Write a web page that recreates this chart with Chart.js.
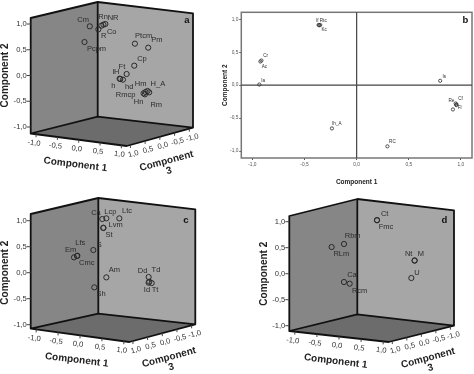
<!DOCTYPE html>
<html>
<head>
<meta charset="utf-8">
<title>Component plots</title>
<script src="https://cdn.jsdelivr.net/npm/chart.js@4"></script>
<style>
  html, body { margin: 0; padding: 0; background: #fff; }
  body { position: relative; width: 474px; height: 374px; overflow: hidden; }
  canvas { position: absolute; filter: blur(0.4px); }
</style>
</head>
<body>
<canvas id="panel-a" style="left:0;top:0" width="218" height="187"></canvas>
<canvas id="panel-b" style="left:218px;top:0" width="256" height="187"></canvas>
<canvas id="panel-c" style="left:0;top:187px" width="237" height="187"></canvas>
<canvas id="panel-d" style="left:237px;top:187px" width="237" height="187"></canvas>
<script>
// values. panels a, c, d are 3D views, so x is the
// position across the box (-1 left edge, 1 right edge), y is against the Component 2 ticks
const aLabels = ['Cm', 'Rn', 'NR', 'R', 'Co', 'Pcpm', 'Ptcm', 'Pm', 'Cp', 'Ft', 'lH', 'h', 'hd', 'Hm', 'H_A', 'Rmcp', 'Hn', 'Rm'];
const aX = [-0.272, -0.129, -0.08, -0.166, -0.104, -0.337, 0.284, 0.448, 0.276, 0.182, 0.104, 0.096, 0.137, 0.391, 0.46, 0.407, 0.415, 0.44];
const aY = [0.955, 0.968, 1.0, 0.896, 0.987, 0.65, 0.618, 0.54, 0.191, 0.029, -0.068, -0.061, -0.081, -0.346, -0.327, -0.366, -0.32, -0.301];

const bLabels = ['lf', 'Rtc', 'Kc', 'Cr', 'Ac', 'Ia', 'Is', 'Re', 'Cf', 'Fl', '', 'RC', 'lh_A'];
const bX = [-0.365, -0.349, -0.359, -0.913, -0.923, -0.933, 0.801, 0.949, 0.958, 0.955, 0.923, 0.295, -0.237];
const bY = [0.914, 0.914, 0.909, 0.374, 0.359, 0.01, 0.066, -0.278, -0.293, -0.303, -0.369, -0.929, -0.657];

const cLabels = ['Ca', 'Lcp', 'Ltc', 'Lvm', 'St', 'S', 'Lfs', 'Em', 'Cmc', 'Am', 'Sh', 'Dd', 'Td', 'Id', 'Tt'];
const cX = [-0.13, -0.081, 0.077, -0.117, -0.117, -0.239, -0.433, -0.474, -0.437, -0.081, -0.227, 0.433, 0.441, 0.433, 0.47];
const cY = [1.032, 1.045, 1.045, 0.865, 0.859, 0.436, 0.327, 0.295, 0.321, -0.09, -0.282, -0.083, -0.173, -0.192, -0.199];

const dLabels = ['Ct', 'Fmc', 'Rbm', 'RLm', 'Ca', 'Rcm', 'Nt', 'M', 'U'];
const dX = [0.065, 0.065, -0.336, -0.486, -0.336, -0.267, 0.522, 0.522, 0.482];
const dY = [1.032, 1.026, 0.571, 0.513, -0.16, -0.192, 0.256, 0.25, -0.083];

const axisTicks = [-1, -0.5, 0, 0.5, 1];

// where each label sits relative to its point, in pixels
const aOffsets = [[-6.7,-6.3],[1.7,-9],[7.7,-5.7],[5.3,6.3],[8.3,7],[12,7],[8.7,-7.7],[8.7,-7.7],[7.7,-7],[-4.7,-7],[-4.3,-6.7],[-6.3,7.7],[6.3,7],[-3,-9],[8.7,-8],[-19.3,1],[-7,9.7],[8.7,14]];
const bOffsets = [[-1.3,-4.7],[3,-4.7],[5,4],[4.3,-4.7],[4,5],[3.7,-3.7],[4,-3.7],[-4.3,-2.7],[4,-5.7],[3.3,3],[0,0],[5,-5],[5,-5]];
const cOffsets = [[-6.3,-6.3],[4,-6.7],[7.7,-7.3],[12.3,-2.3],[5.7,7],[6,-5.3],[3,-12.7],[-3.3,-7.7],[9.7,7],[8,-7.3],[6.7,7],[-6,-6.3],[6.7,-11.3],[-1.7,7.7],[3.3,7.3]];
const dOffsets = [[7.7,-6.3],[9,6.7],[8.7,-7.7],[9.7,7.3],[8,-7],[10,7],[-6,-6.3],[6.3,-7],[5.7,-4.7]];

const FONT = '"Liberation Sans", Arial, sans-serif';
const BOX_RANGE = 1.125;

function comma(v) {
  return v.toFixed(1).replace('.', ',');
}

function toPoints(xs, ys) {
  return xs.map((x, i) => ({ x: x, y: ys[i] }));
}

const pointLabels = {
  id: 'pointLabels',
  afterDatasetsDraw(chart, args, opts) {
    const ctx = chart.ctx;
    const meta = chart.getDatasetMeta(0);
    ctx.save();
    ctx.font = opts.size + 'px ' + FONT;
    ctx.fillStyle = '#2c2c2c';
    ctx.textAlign = 'center';
    ctx.textBaseline = 'middle';
    meta.data.forEach((pt, i) => {
      ctx.fillText(opts.labels[i], pt.x + opts.offsets[i][0], pt.y + opts.offsets[i][1]);
    });
    ctx.restore();
  }
};

function poly(ctx, pts, fill) {
  ctx.beginPath();
  pts.forEach((p, i) => i ? ctx.lineTo(p[0], p[1]) : ctx.moveTo(p[0], p[1]));
  ctx.closePath();
  ctx.fillStyle = fill;
  ctx.fill();
}

function lines(ctx, pts) {
  ctx.beginPath();
  pts.forEach((p, i) => i ? ctx.lineTo(p[0], p[1]) : ctx.moveTo(p[0], p[1]));
  ctx.stroke();
}

function rotatedText(ctx, text, x, y, angle) {
  ctx.save();
  ctx.translate(x, y);
  ctx.rotate(angle * Math.PI / 180);
  ctx.fillText(text, 0, 0);
  ctx.restore();
}

// the box, its ticks and titles
const boxFrame = {
  id: 'boxFrame',
  beforeDatasetsDraw(chart, args, g) {
    const ctx = chart.ctx;
    const lt = [g.left, g.top], lb = [g.left, g.bottom];
    const bt = [g.backX, g.backTop], bb = [g.backX, g.backBottom];
    const rt = [g.right, g.rightTop], rb = [g.right, g.rightBottom];
    const f = [g.frontX, g.frontY];

    ctx.save();
    poly(ctx, [lt, bt, bb, lb], '#868686');
    poly(ctx, [bt, rt, rb, bb], '#a6a6a6');
    poly(ctx, [lb, bb, rb, f], '#6c6c6c');

    ctx.strokeStyle = '#111';
    ctx.lineWidth = 1.8;
    ctx.lineJoin = 'round';
    lines(ctx, [lb, lt, bt, rt, rb, f, lb, bb, rb]);
    lines(ctx, [bt, bb]);

    ctx.strokeStyle = '#444';
    ctx.lineWidth = 1;
    ctx.fillStyle = '#333';
    ctx.font = '7.6px ' + FONT;
    ctx.textBaseline = 'middle';

    // Component 2 on the left edge
    ctx.textAlign = 'right';
    axisTicks.forEach(v => {
      const y = chart.scales.y.getPixelForValue(v);
      lines(ctx, [[g.left - 4, y], [g.left, y]]);
      ctx.fillText(comma(v), g.left - 4, y);
    });

    // Component 1 along the front left edge, Component 3 along the front right edge
    ctx.textAlign = 'center';
    axisTicks.forEach(v => {
      const t1 = (v + BOX_RANGE) / (2 * BOX_RANGE);
      const x1 = lb[0] + (f[0] - lb[0]) * t1, y1 = lb[1] + (f[1] - lb[1]) * t1;
      lines(ctx, [[x1, y1], [x1, y1 + 3]]);
      rotatedText(ctx, comma(v), x1 - 2, y1 + 9, 7);

      const x3 = f[0] + (rb[0] - f[0]) * (1 - t1), y3 = f[1] + (rb[1] - f[1]) * (1 - t1);
      lines(ctx, [[x3, y3], [x3, y3 + 3]]);
      rotatedText(ctx, comma(v), x3 + 3, y3 + 9, -15);
    });

    ctx.fillStyle = '#222';
    ctx.font = 'bold 10px ' + FONT;
    rotatedText(ctx, 'Component 1', (lb[0] + f[0]) / 2 - 3.3, (lb[1] + f[1]) / 2 + 24.7, 7);
    rotatedText(ctx, 'Component', (rb[0] + f[0]) / 2 + 6.7, (rb[1] + f[1]) / 2 + 24.3, -15);
    rotatedText(ctx, '3', (rb[0] + f[0]) / 2 + 9, (rb[1] + f[1]) / 2 + 34, -15);
    rotatedText(ctx, 'Component 2', g.left - 25.5, chart.scales.y.getPixelForValue(0), -90);

    ctx.fillStyle = '#111';
    ctx.font = 'bold 9.5px ' + FONT;
    ctx.fillText(g.letter, g.letterX, g.letterY);
    ctx.restore();
  }
};

function boxChart(id, labels, xs, ys, offsets, geom) {
  const canvas = document.getElementById(id);
  const ox = (geom.left + geom.right) / 2;
  const ux = (geom.right - geom.left) / 2;
  new Chart(canvas.getContext('2d'), {
    type: 'scatter',
    data: {
      datasets: [{
        data: toPoints(xs, ys),
        pointRadius: 2.6,
        pointBorderWidth: 1,
        pointBorderColor: '#2a2a2a',
        pointBackgroundColor: 'transparent'
      }]
    },
    options: {
      responsive: false,
      animation: false,
      layout: { autoPadding: false },
      scales: {
        x: { display: false, min: (0 - ox) / ux, max: (canvas.width - ox) / ux },
        y: { display: false, min: (geom.zeroY - canvas.height) / geom.unitY, max: geom.zeroY / geom.unitY }
      },
      plugins: {
        legend: { display: false },
        tooltip: { enabled: false },
        boxFrame: geom,
        pointLabels: { labels: labels, offsets: offsets, size: 7.5 }
      }
    },
    plugins: [boxFrame, pointLabels]
  });
}

boxChart('panel-a', aLabels, aX, aY, aOffsets, {
  left: 30.7, top: 18, bottom: 133.5,
  backX: 97.7, backTop: 2, backBottom: 116.7,
  right: 193, rightTop: 13.3, rightBottom: 127.7,
  frontX: 126.7, frontY: 146,
  zeroY: 75.5, unitY: 51.5,
  letter: 'a', letterX: 187, letterY: 20
});

boxChart('panel-c', cLabels, cX, cY, cOffsets, {
  left: 30.7, top: 27, bottom: 141.7,
  backX: 98.3, backTop: 11, backBottom: 126.7,
  right: 195.3, rightTop: 22.3, rightBottom: 137.3,
  frontX: 129.3, frontY: 155,
  zeroY: 85.7, unitY: 52,
  letter: 'c', letterX: 186, letterY: 33.5
});

boxChart('panel-d', dLabels, dX, dY, dOffsets, {
  left: 52.3, top: 29, bottom: 144,
  backX: 120.3, backTop: 12, backBottom: 127.3,
  right: 217, rightTop: 23.3, rightBottom: 138.7,
  frontX: 151.7, frontY: 155,
  zeroY: 86.7, unitY: 52,
  letter: 'd', letterX: 207.5, letterY: 33
});

// panel b is a plain 2D scatter with zero lines
const plotFrame = {
  id: 'plotFrame',
  beforeDatasetsDraw(chart) {
    const ctx = chart.ctx;
    const a = chart.chartArea;
    ctx.save();
    ctx.strokeStyle = '#777';
    ctx.lineWidth = 1.5;
    ctx.strokeRect(a.left, a.top, a.right - a.left, a.bottom - a.top);
    ctx.strokeStyle = '#444';
    ctx.lineWidth = 1.2;
    const zx = chart.scales.x.getPixelForValue(0);
    const zy = chart.scales.y.getPixelForValue(0);
    lines(ctx, [[zx, a.top], [zx, a.bottom]]);
    lines(ctx, [[a.left, zy], [a.right, zy]]);
    ctx.fillStyle = '#111';
    ctx.font = 'bold 9.5px ' + FONT;
    ctx.textAlign = 'center';
    ctx.textBaseline = 'middle';
    ctx.fillText('b', a.right - 6.5, a.top + 8);
    ctx.restore();
  }
};

function scatterAxis(tickPadding, titleOffset, afterFit) {
  return {
    type: 'linear',
    min: -1.106,
    max: 1.106,
    grid: { drawOnChartArea: false, tickLength: 2, tickColor: '#555' },
    border: { display: false },
    ticks: {
      color: '#555',
      font: { size: 4.8, family: FONT },
      padding: tickPadding,
      autoSkip: false,
      maxRotation: 0,
      callback: v => comma(v)
    },
    title: {
      display: true,
      color: '#222',
      font: { size: 6.5, weight: 'bold', family: FONT },
      padding: { top: titleOffset, bottom: 1 }
    },
    afterBuildTicks: s => { s.ticks = axisTicks.map(v => ({ value: v })); },
    afterFit: afterFit
  };
}

const bXAxis = scatterAxis(2, 8, s => { s.height = 29; });
bXAxis.title.text = 'Component 1';
const bYAxis = scatterAxis(1, 3, s => { s.width = 23.3; });
bYAxis.title.text = 'Component 2';

new Chart(document.getElementById('panel-b').getContext('2d'), {
  type: 'scatter',
  data: {
    datasets: [{
      data: toPoints(bX, bY),
      pointRadius: 1.6,
      pointBorderWidth: 0.8,
      pointBorderColor: '#2a2a2a',
      pointBackgroundColor: 'transparent'
    }]
  },
  options: {
    responsive: false,
    animation: false,
    layout: { autoPadding: false, padding: { top: 12.3, right: 2 } },
    scales: { x: bXAxis, y: bYAxis },
    plugins: {
      legend: { display: false },
      tooltip: { enabled: false },
      pointLabels: { labels: bLabels, offsets: bOffsets, size: 4.6 }
    }
  },
  plugins: [plotFrame, pointLabels]
});
</script>
</body>
</html>
